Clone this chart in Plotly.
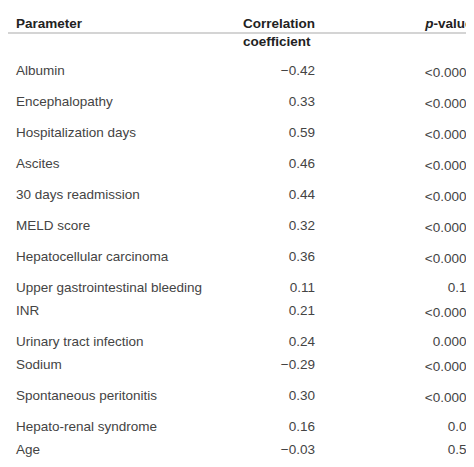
import plotly.graph_objects as go

parameters = ["Albumin","Encephalopathy","Hospitalization days","Ascites","30 days readmission","MELD score",
"Hepatocellular carcinoma","Upper gastrointestinal bleeding","INR","Urinary tract infection","Sodium",
"Spontaneous peritonitis","Hepato-renal syndrome","Age","Pulmonary infections","Esophageal varices",
"Child Pugh Score","6 months mortality","1 year mortality"]
correlation = ["−0.42","0.33","0.59","0.46","0.44","0.32","0.36","0.11","0.21","0.24","−0.29","0.30","0.16",
"−0.03","0.12","0.17","0.47","0.45","0.53"]
p_values = ["<0.0001","<0.0001","<0.0001","<0.0001","<0.0001","<0.0001","<0.0001","0.10","<0.0001","0.0004",
"<0.0001","<0.0001","0.01","0.57","0.07","<0.01","<0.0001","<0.0001","<0.0001"]
headers = ["<b>Parameter</b>","<b>Correlation coefficient</b>","<b><i>p</i>-value</b>"]

W, H = 474, 467
fig = go.Figure(go.Table(
    columnwidth=[215, 100, 159],
    header=dict(values=headers, align=["left","right","right"], height=26,
                font=dict(family="Liberation Sans, Arial", size=13.5, color="#222"),
                fill_color="white", line_color="white"),
    cells=dict(values=[parameters, correlation, p_values], align=["left","right","right"], height=23.05,
               font=dict(family="Liberation Sans, Arial", size=13.5, color="#444"),
               fill_color="white", line_color="white"),
    domain=dict(x=[0, 1], y=[0, 1]),
))
fig.add_shape(type="line", xref="paper", yref="paper", x0=0, x1=1, y0=1-25/H, y1=1-25/H,
              line=dict(color="#aaa", width=1.2))
fig.update_layout(width=W, height=H, margin=dict(l=0, r=0, t=0, b=0), paper_bgcolor="white")
fig.write_html("out.html")
